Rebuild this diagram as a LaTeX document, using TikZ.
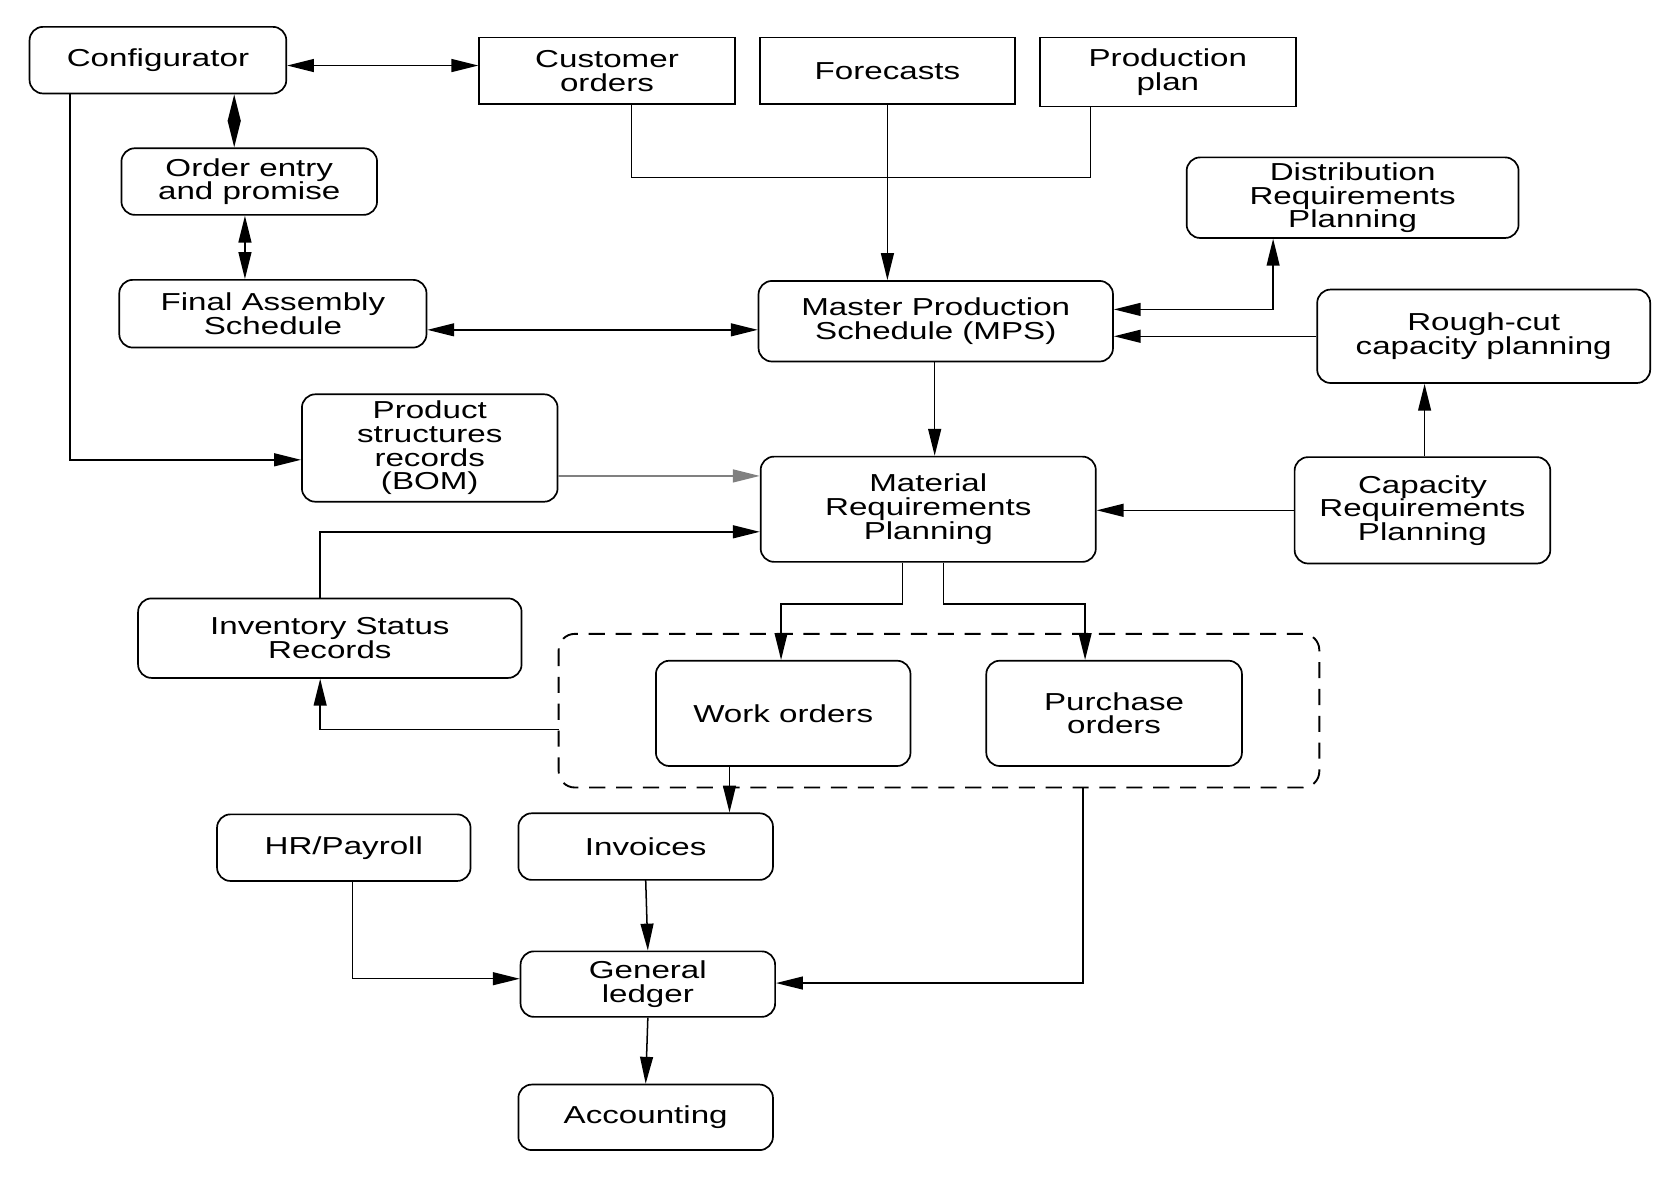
\documentclass[tikz,border=0pt]{standalone}
\usepackage{fontspec}
\setmainfont{Liberation Sans}[FakeStretch=1.35]
\usetikzlibrary{arrows.meta}
\begin{document}
\begin{tikzpicture}[x=0.02cm,y=-0.02cm,
  bx/.style={draw,line width=0.9pt,rounded corners=2.5mm,align=center,inner sep=0pt,font=\fontsize{13}{12.5}\selectfont},
  sq/.style={bx,sharp corners},
  ln/.style={line width=0.8pt},
  tip/.style={-{Triangle[length=5mm,width=2.4mm]}},
  tips/.style={{Triangle[length=5mm,width=2.4mm]}-{Triangle[length=5mm,width=2.4mm]}}]
\useasboundingbox[fill=white] (0,0) rectangle (1560,1101);
\node[bx,minimum width=4.78cm,minimum height=1.24cm] (cfg) at (147,56) {Configurator};
\node[sq,minimum width=4.76cm,minimum height=1.24cm] (cust) at (565,66) {Customer\\orders};
\node[sq,minimum width=4.74cm,minimum height=1.24cm] (fc) at (826,66) {Forecasts};
\node[sq,minimum width=4.76cm,minimum height=1.28cm] (pp) at (1087,67) {Production\\plan};
\node[bx,minimum width=4.76cm,minimum height=1.24cm] (oe) at (232,169) {Order entry\\and promise};
\node[bx,minimum width=6.18cm,minimum height=1.5cm] (drp) at (1259,184) {Distribution\\Requirements\\Planning};
\node[bx,minimum width=5.72cm,minimum height=1.26cm] (fas) at (254,292) {Final Assembly\\Schedule};
\node[bx,minimum width=6.6cm,minimum height=1.5cm] (mps) at (871,299) {Master Production\\Schedule (MPS)};
\node[bx,minimum width=6.2cm,minimum height=1.74cm] (rc) at (1381,313) {Rough-cut\\capacity planning};
\node[bx,minimum width=4.76cm,minimum height=2.0cm] (bom) at (400,417) {Product\\structures\\records\\(BOM)};
\node[bx,minimum width=6.24cm,minimum height=1.96cm] (mrp) at (864,474) {Material\\Requirements\\Planning};
\node[bx,minimum width=4.76cm,minimum height=1.98cm] (crp) at (1324,475) {Capacity\\Requirements\\Planning};
\node[bx,minimum width=7.14cm,minimum height=1.48cm] (inv) at (307,594) {Inventory Status\\Records};
\draw[line width=1pt,dashed,dash pattern=on 3mm off 2mm,rounded corners=3mm] (520,590) rectangle (1228,733);
\coordinate (dbl) at (520,679);
\coordinate (dbb) at (1008,733);
\node[bx,minimum width=4.74cm,minimum height=1.96cm] (wo) at (729,664) {Work orders};
\node[bx,minimum width=4.76cm,minimum height=1.96cm] (po) at (1037,664) {Purchase\\orders};
\node[bx,minimum width=4.72cm,minimum height=1.24cm] (hr) at (320,789) {HR/Payroll};
\node[bx,minimum width=4.74cm,minimum height=1.24cm] (invc) at (601,788) {Invoices};
\node[bx,minimum width=4.74cm,minimum height=1.22cm] (gl) at (603,916) {General\\ledger};
\node[bx,minimum width=4.74cm,minimum height=1.22cm] (acc) at (601,1040) {Accounting};
% helper coordinates
\foreach \n/\x/\y in {a/588/165,b/1015/165,c/1185/288,d/65/428,e/298/495,f/840/562,g/727/562,h/878/562,i/1010/562,j/679/0,k/328/911,l/1008/915,m/218/0,n/228/0,o/61/61,p/1326/0,q/870/0,r/443/443,s/307/307,t/313/313,u/475/475}
  \coordinate (\n) at (\x,\y);
\draw[ln,tips] (cfg.east |- 0,61) -- (cust.west |- 0,61);
\draw[ln,tips] (cfg.south -| m) -- (oe.north -| m);
\draw[ln,tips] (oe.south -| n) -- (fas.north -| n);
\draw[ln,tips] (fas.east |- s) -- (mps.west |- s);
\draw[ln] (cust.south -| a) -- (a) -- (b) -- (pp.south -| b);
\draw[ln,tip] (fc) ++(0,31) -- (mps.north -| fc);
\draw[ln,tips] (mps.east |- c) -- (c) -- (drp.south -| c);
\draw[ln,tip] (rc.west |- t) -- (mps.east |- t);
\draw[ln,tip] (crp.north -| p) -- (rc.south -| p);
\draw[ln,tip] (crp.west |- u) -- (mrp.east |- u);
\draw[ln,tip] (mps.south -| q) -- (mrp.north -| q);
\draw[ln,tip] (cfg.south -| d) -- (d) -- (bom.west |- d);
\draw[ln,gray,tip] (bom.east |- r) -- (mrp.west |- r);
\draw[ln,tip] (inv.north -| e) -- (e) -- (mrp.west |- e);
\draw[ln,tip] (mrp.south -| f) -- (f) -- (g) -- (wo.north -| g);
\draw[ln,tip] (mrp.south -| h) -- (h) -- (i) -- (po.north -| i);
\draw[ln,tip] (dbl) -- (dbl -| e) -- (inv.south -| e);
\draw[ln,tip] (wo.south -| j) -- (invc.north -| j);
\draw[ln,tip] (invc) ++(0,31) -- (gl.north);
\draw[ln,tip] (hr.south -| k) -- (k) -- (gl.west |- k);
\draw[ln,tip] (dbb) -- (l) -- (gl.east |- l);
\draw[ln,tip] (gl.south) -- (acc.north);
\end{tikzpicture}
\end{document}
